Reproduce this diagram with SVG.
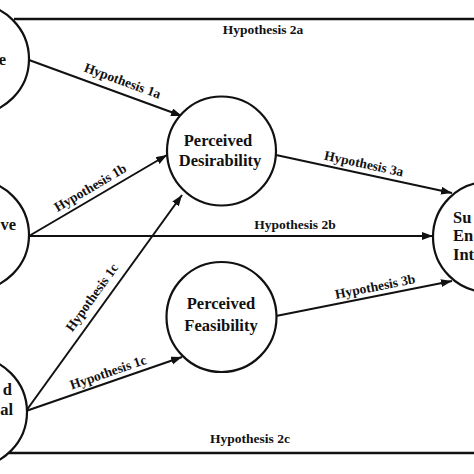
<svg xmlns="http://www.w3.org/2000/svg" width="474" height="474" viewBox="0 0 474 474">
<style>
.node{fill:#fff;stroke:#111;stroke-width:2.2}
.nt{font-family:"Liberation Serif","Times New Roman",serif;font-weight:bold;font-size:16.5px;fill:#111}
.lbl{font-family:"Liberation Serif","Times New Roman",serif;font-weight:bold;font-size:13.5px;fill:#111;text-anchor:middle}
.ln{stroke:#111;stroke-width:2;fill:none}
</style>
<defs>
<marker id="arr" markerWidth="12" markerHeight="10" refX="11" refY="4" orient="auto" markerUnits="userSpaceOnUse">
<path d="M0,0 L11,4 L0,8 z" fill="#111"/>
</marker>
</defs>
<rect width="474" height="474" fill="#fff"/>
<g id="connectors">
<line class="ln" x1="14" y1="19" x2="474" y2="19" style="stroke-width:2.5"/>
<line class="ln" x1="9" y1="453" x2="474" y2="453" style="stroke-width:2.5"/>
<line class="ln" x1="29" y1="60" x2="182" y2="116" marker-end="url(#arr)"/>
<line class="ln" x1="29" y1="236" x2="167" y2="155" marker-end="url(#arr)"/>
<line class="ln" x1="29" y1="236" x2="433" y2="236" marker-end="url(#arr)"/>
<line class="ln" x1="26" y1="411" x2="182" y2="195" marker-end="url(#arr)"/>
<line class="ln" x1="26" y1="411" x2="182" y2="357" marker-end="url(#arr)"/>
<line class="ln" x1="276" y1="155" x2="452" y2="193" marker-end="url(#arr)"/>
<line class="ln" x1="276" y1="316" x2="452" y2="281" marker-end="url(#arr)"/>
<text class="lbl" x="263" y="34">Hypothesis 2a</text>
<text class="lbl" x="295" y="229">Hypothesis 2b</text>
<text class="lbl" x="250" y="443">Hypothesis 2c</text>
<text class="lbl" transform="translate(121,85) rotate(20.1)">Hypothesis 1a</text>
<text class="lbl" transform="translate(92.5,191.5) rotate(-30.4)">Hypothesis 1b</text>
<text class="lbl" transform="translate(95.5,300) rotate(-54.2)">Hypothesis 1c</text>
<text class="lbl" transform="translate(109.6,376.5) rotate(-19.1)">Hypothesis 1c</text>
<text class="lbl" transform="translate(363,168) rotate(12.2)">Hypothesis 3a</text>
<text class="lbl" transform="translate(376,291) rotate(-11.2)">Hypothesis 3b</text>
</g>
<g id="node-left-top">
<circle class="node" cx="-26" cy="59" r="55"/>
<text class="nt" x="6" y="65" text-anchor="end">e</text>
</g>
<g id="node-left-mid">
<circle class="node" cx="-26" cy="235" r="55"/>
<text class="nt" x="16" y="230" text-anchor="end">ve</text>
</g>
<g id="node-left-bottom">
<circle class="node" cx="-28" cy="412" r="55"/>
<text class="nt" x="12" y="395" text-anchor="end">d</text>
<text class="nt" x="13" y="415" text-anchor="end">al</text>
</g>
<g id="node-desirability">
<circle class="node" cx="221.5" cy="151" r="54.5"/>
<text class="nt" x="218" y="146" text-anchor="middle">Perceived</text>
<text class="nt" x="220" y="166" text-anchor="middle">Desirability</text>
</g>
<g id="node-feasibility">
<circle class="node" cx="221.5" cy="317" r="55"/>
<text class="nt" x="221" y="309" text-anchor="middle">Perceived</text>
<text class="nt" x="221" y="331" text-anchor="middle">Feasibility</text>
</g>
<g id="node-intention">
<circle class="node" cx="488" cy="237" r="55"/>
<text class="nt" x="453" y="223">Su</text>
<text class="nt" x="453" y="241">En</text>
<text class="nt" x="453" y="260">Int</text>
</g>
</svg>
